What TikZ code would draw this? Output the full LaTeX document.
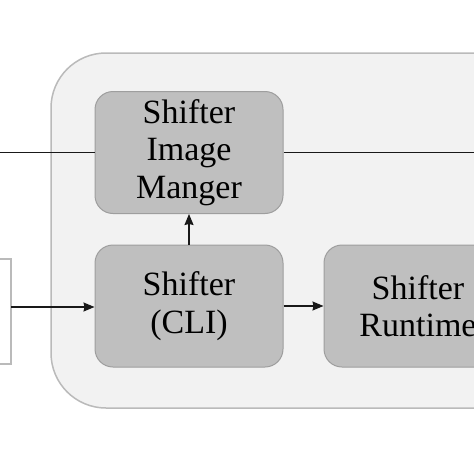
\documentclass[tikz,border=0pt]{standalone}
\usepackage{fontspec}
\setmainfont{Liberation Serif}
\usetikzlibrary{arrows.meta}
\tikzset{
  blk/.style={draw=black!38, line width=1pt, fill=black!25, rounded corners=18pt,
    minimum width=188pt, minimum height=122pt, inner sep=0pt, align=center,
    font=\fontsize{34}{37.5}\selectfont},
  conn/.style={black!90, line width=1.3pt},
  arr/.style={conn, -{Stealth[length=11pt,width=9pt,inset=1pt]}}
}
\begin{document}
\begin{tikzpicture}[x=1pt,y=-1pt]
\useasboundingbox (0,0) rectangle (474,474);
\clip (0,0) rectangle (474,474);
\fill[white] (0,0) rectangle (474,474);
% outer container
\draw[draw=black!27, line width=1.5pt, fill=black!5, rounded corners=55pt] (51,53) rectangle (560,408);
% left external box
\draw[draw=black!27, line width=1.5pt, fill=white] (-100,259) rectangle (11,364);
\coordinate (ext) at (11,307);
% blocks
\node[blk] (im) at (189,152.5) {Shifter\\Image\\Manger};
\node[blk] (cli) at (189,306) {Shifter\\(CLI)};
\node[blk] (rt) at (418,306) {Shifter\\Runtime};
\coordinate (lfree) at (0,152.5);
\coordinate (rfree) at (474,152.5);
% connectors
\draw[conn] (lfree) -- (im.west);
\draw[conn] (im.east) -- (rfree);
\draw[arr] (ext) -- (cli.west |- ext);
\draw[arr] (cli.north) -- (im.south);
\draw[arr] (cli.east) -- (rt.west);
\end{tikzpicture}
\end{document}
